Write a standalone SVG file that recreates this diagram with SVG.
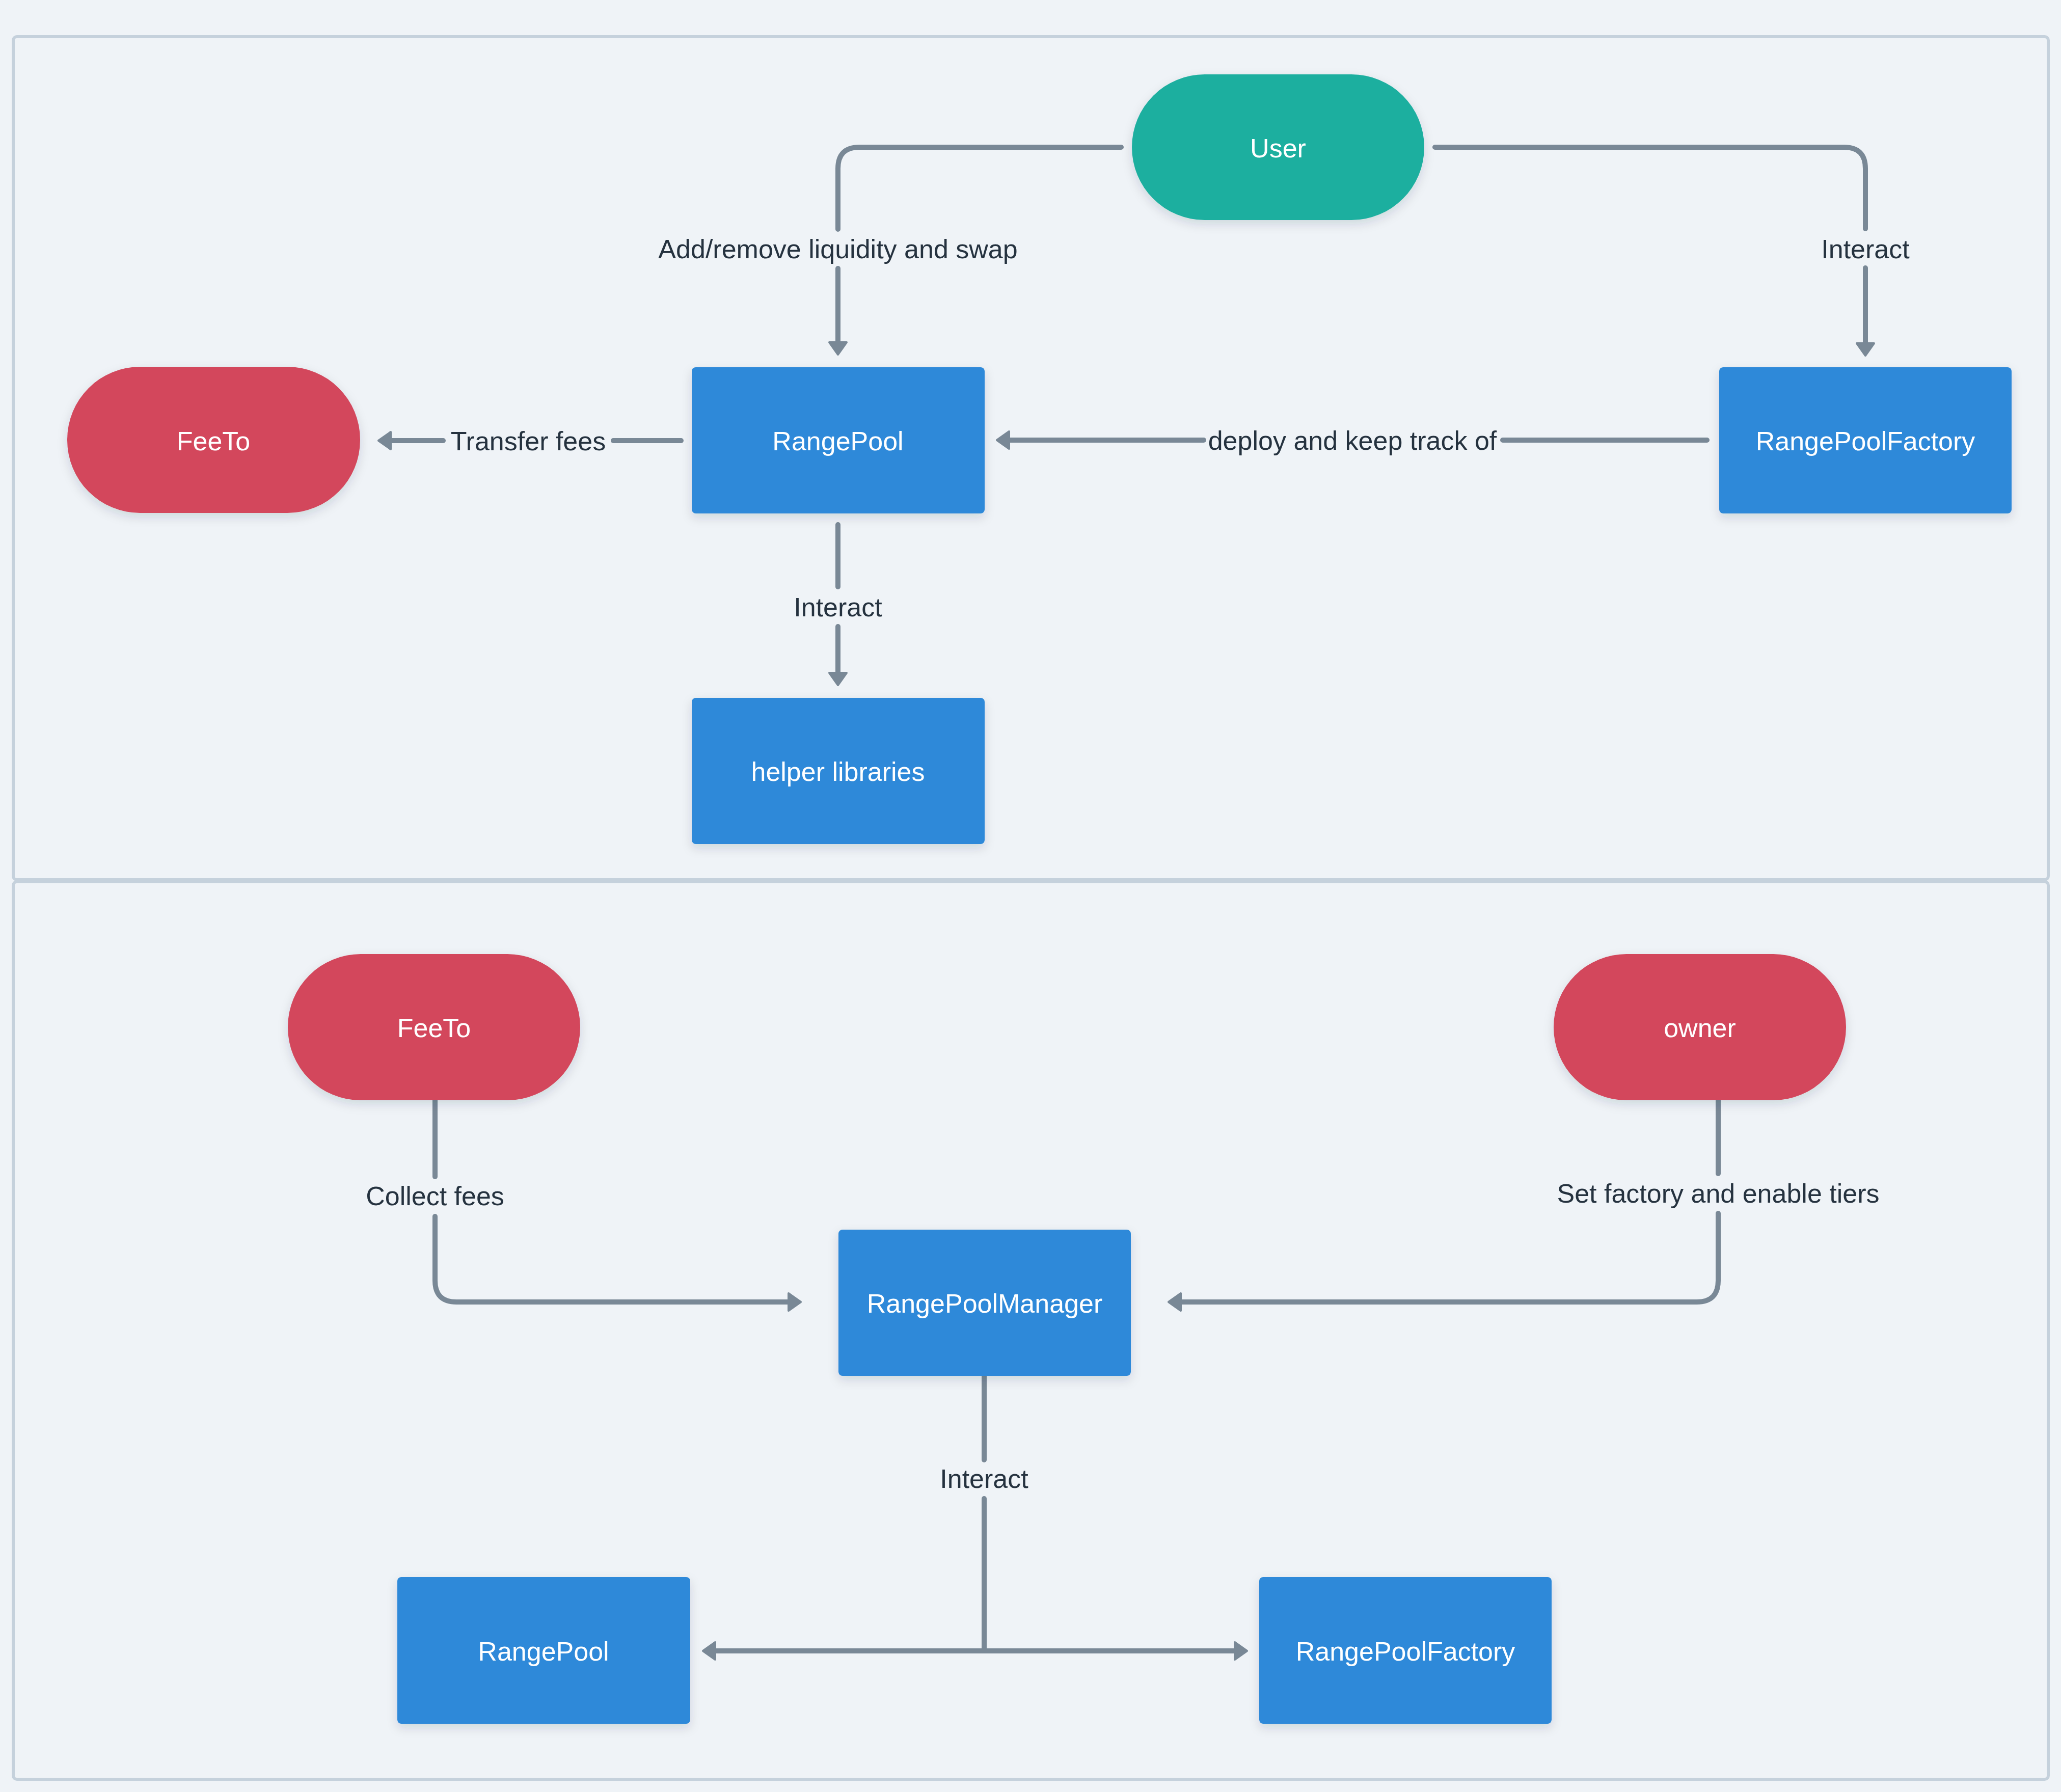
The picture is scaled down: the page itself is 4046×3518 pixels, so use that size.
<svg xmlns="http://www.w3.org/2000/svg" width="4046" height="3518" viewBox="0 0 4046 3518">
<style>
.frame{fill:#eff3f7;stroke:#c5d1dc;stroke-width:6}
.box{fill:#2d89d9}
.pill-teal{fill:#1caf9f}
.pill-red{fill:#d3465c}
.nt{font-family:"Liberation Sans",Arial,sans-serif;font-size:52px;fill:#ffffff;text-anchor:middle}
.lt{font-family:"Liberation Sans",Arial,sans-serif;font-size:52px;fill:#25323f;text-anchor:middle}
.ln{fill:none;stroke:#798896;stroke-width:10;stroke-linecap:round;stroke-linejoin:round}
</style>
<defs>
<filter id="sh" x="-20%" y="-20%" width="140%" height="150%">
<feDropShadow dx="0" dy="8" stdDeviation="10" flood-color="#1b2a3a" flood-opacity="0.14"/>
</filter>
<marker id="ah" markerUnits="userSpaceOnUse" viewBox="-4 -22 32 44" markerWidth="32" markerHeight="44" refX="0" refY="0" orient="auto-start-reverse">
<path d="M0,-17 L24,0 L0,17 Z" fill="#798896" stroke="#798896" stroke-width="4" stroke-linejoin="round"/>
</marker>
</defs>
<rect x="0" y="0" width="4046" height="3518" fill="#eff3f7"/>
<g id="frames">
<rect class="frame" x="26" y="72" width="3995" height="1655" rx="7"/>
<rect class="frame" x="26" y="1731" width="3995" height="1762" rx="7"/>
</g>
<g id="connectors">
<path class="ln" d="M2201,289 H1687 Q1645,289 1645,331 V450"/>
<path class="ln" d="M1645,527 V672" marker-end="url(#ah)"/>
<text class="lt" x="1645" y="507">Add/remove liquidity and swap</text>
<path class="ln" d="M2817,289 H3620 Q3662,289 3662,331 V449"/>
<path class="ln" d="M3662,526 V674" marker-end="url(#ah)"/>
<text class="lt" x="3662" y="507">Interact</text>
<path class="ln" d="M3351,864 H2950"/>
<path class="ln" d="M2363,864 H1981" marker-end="url(#ah)"/>
<text class="lt" x="2655" y="883">deploy and keep track of</text>
<path class="ln" d="M1337,865 H1204"/>
<path class="ln" d="M870,865 H767" marker-end="url(#ah)"/>
<text class="lt" x="1037" y="884">Transfer fees</text>
<path class="ln" d="M1645,1030 V1152"/>
<path class="ln" d="M1645,1230 V1321" marker-end="url(#ah)"/>
<text class="lt" x="1645" y="1210">Interact</text>
<path class="ln" d="M854,2160 V2310"/>
<path class="ln" d="M854,2388 V2514 Q854,2556 896,2556 H1548" marker-end="url(#ah)"/>
<text class="lt" x="854" y="2366">Collect fees</text>
<path class="ln" d="M3373,2160 V2304"/>
<path class="ln" d="M3373,2382 V2514 Q3373,2556 3331,2556 H2318" marker-end="url(#ah)"/>
<text class="lt" x="3373" y="2361">Set factory and enable tiers</text>
<path class="ln" d="M1932,2700 V2866"/>
<path class="ln" d="M1932,2942 V3241"/>
<path class="ln" d="M1404,3241 H2424" marker-start="url(#ah)" marker-end="url(#ah)"/>
<text class="lt" x="1932" y="2921">Interact</text>
</g>
<g id="node-user" filter="url(#sh)">
<rect class="pill-teal" x="2222" y="146" width="574" height="286" rx="143"/>
<text class="nt" x="2509" y="309">User</text>
</g>
<g id="node-feeto-top" filter="url(#sh)">
<rect class="pill-red" x="132" y="720" width="575" height="287" rx="143"/>
<text class="nt" x="419" y="884">FeeTo</text>
</g>
<g id="node-rangepool-top" filter="url(#sh)">
<rect class="box" x="1358" y="721" width="575" height="287" rx="8"/>
<text class="nt" x="1645" y="884">RangePool</text>
</g>
<g id="node-rangepoolfactory-top" filter="url(#sh)">
<rect class="box" x="3375" y="721" width="574" height="287" rx="8"/>
<text class="nt" x="3662" y="884">RangePoolFactory</text>
</g>
<g id="node-helper-libraries" filter="url(#sh)">
<rect class="box" x="1358" y="1370" width="575" height="287" rx="8"/>
<text class="nt" x="1645" y="1533">helper libraries</text>
</g>
<g id="node-feeto-bottom" filter="url(#sh)">
<rect class="pill-red" x="565" y="1873" width="574" height="287" rx="143"/>
<text class="nt" x="852" y="2036">FeeTo</text>
</g>
<g id="node-owner" filter="url(#sh)">
<rect class="pill-red" x="3050" y="1873" width="574" height="287" rx="143"/>
<text class="nt" x="3337" y="2036">owner</text>
</g>
<g id="node-rangepoolmanager" filter="url(#sh)">
<rect class="box" x="1646" y="2414" width="574" height="287" rx="8"/>
<text class="nt" x="1933" y="2577">RangePoolManager</text>
</g>
<g id="node-rangepool-bottom" filter="url(#sh)">
<rect class="box" x="780" y="3096" width="575" height="288" rx="8"/>
<text class="nt" x="1067" y="3260">RangePool</text>
</g>
<g id="node-rangepoolfactory-bottom" filter="url(#sh)">
<rect class="box" x="2472" y="3096" width="574" height="288" rx="8"/>
<text class="nt" x="2759" y="3260">RangePoolFactory</text>
</g>
</svg>
